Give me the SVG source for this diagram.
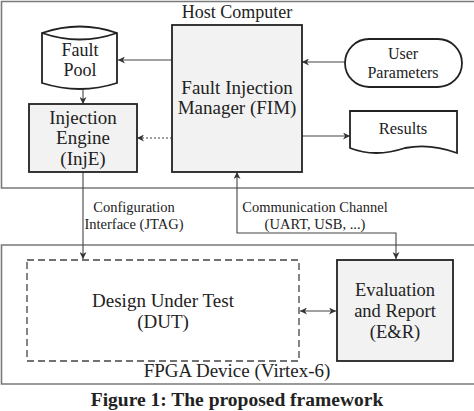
<svg xmlns="http://www.w3.org/2000/svg" width="474" height="411" viewBox="0 0 474 411">
<defs>
<marker id="ah" viewBox="0 0 10 10" refX="10" refY="5" markerWidth="7" markerHeight="7" orient="auto-start-reverse" markerUnits="userSpaceOnUse"><path d="M0,0 L10,5 L0,10 L3,5 Z" fill="#333"/></marker>
<style>
.t{font-family:"Liberation Serif","Times New Roman",serif;fill:#222;text-anchor:middle}
.node{stroke:#222;stroke-width:1.8}
.gray{fill:#f2f2f2}
.white{fill:#fff}
.con{fill:none;stroke:#444;stroke-width:1.1}
.frame{fill:none;stroke:#7a7a7a;stroke-width:1.6}
</style>
</defs>
<rect width="474" height="411" fill="#fff"/>
<g id="host">
<path class="frame" d="M474,1.5 H1.5 V188 H474"/>
<text class="t" x="237" y="18" font-size="18">Host Computer</text>
</g>
<g id="fpga">
<path class="frame" d="M474,245 H1.5 V384 H474"/>
<text class="t" x="237" y="377" font-size="19">FPGA Device (Virtex-6)</text>
</g>
<g id="connectors">
<line class="con" x1="172" y1="60" x2="118" y2="60" marker-end="url(#ah)"/>
<line class="con" x1="83" y1="88" x2="83" y2="104" marker-end="url(#ah)"/>
<line class="con" x1="172" y1="138" x2="137" y2="138" stroke-dasharray="2,2" marker-end="url(#ah)"/>
<line class="con" x1="345" y1="62" x2="302" y2="62" marker-end="url(#ah)"/>
<line class="con" x1="302" y1="136" x2="350" y2="136" marker-end="url(#ah)"/>
<line class="con" x1="83" y1="172" x2="83" y2="259" marker-end="url(#ah)"/>
<path class="con" d="M396,259 V233 H237 V172" marker-start="url(#ah)" marker-end="url(#ah)"/>
<line class="con" x1="300" y1="311" x2="336" y2="311" marker-start="url(#ah)" marker-end="url(#ah)"/>
<text class="t" x="134" y="212" font-size="14.5">Configuration</text>
<text class="t" x="134" y="229" font-size="14.5">Interface (JTAG)</text>
<text class="t" x="315" y="212" font-size="14.5">Communication Channel</text>
<text class="t" x="315" y="229" font-size="14.5">(UART, USB, ...)</text>
</g>
<g id="faultpool">
<path class="node white" d="M42,33 Q80,20 117,33 V83 Q80,95 42,83 Z"/>
<path class="node" fill="none" d="M42,33 Q80,46 117,33"/>
<text class="t" x="80" y="56" font-size="18">Fault</text>
<text class="t" x="80" y="76" font-size="18">Pool</text>
</g>
<g id="inje">
<rect class="node gray" x="29" y="104" width="108" height="68"/>
<text class="t" x="83" y="124" font-size="19">Injection</text>
<text class="t" x="83" y="144" font-size="19">Engine</text>
<text class="t" x="83" y="165" font-size="19">(InjE)</text>
</g>
<g id="fim">
<rect class="node gray" x="172" y="25" width="130" height="147"/>
<text class="t" x="237" y="94" font-size="19">Fault Injection</text>
<text class="t" x="237" y="114" font-size="19">Manager (FIM)</text>
</g>
<g id="userparams">
<rect class="node white" x="345" y="39" width="117" height="48" rx="24" ry="24"/>
<text class="t" x="403" y="59" font-size="16">User</text>
<text class="t" x="403" y="78" font-size="16">Parameters</text>
</g>
<g id="results">
<path class="node white" d="M350,111 H457 V153 Q430,143 405,148 Q375,158 350,148 Z"/>
<text class="t" x="403" y="134" font-size="16.5">Results</text>
</g>
<g id="dut">
<rect x="27" y="260" width="272" height="101" fill="none" stroke="#444" stroke-width="1.3" stroke-dasharray="7,4"/>
<text class="t" x="163" y="307" font-size="19">Design Under Test</text>
<text class="t" x="163" y="328" font-size="19">(DUT)</text>
</g>
<g id="er">
<rect class="node gray" x="337" y="260" width="116" height="101" stroke-width="2"/>
<text class="t" x="395" y="296" font-size="18.5">Evaluation</text>
<text class="t" x="395" y="317" font-size="18.5">and Report</text>
<text class="t" x="395" y="338" font-size="18.5">(E&amp;R)</text>
</g>
<text class="t" x="237" y="406" font-size="19.5" font-weight="bold">Figure 1: The proposed framework</text>
</svg>
